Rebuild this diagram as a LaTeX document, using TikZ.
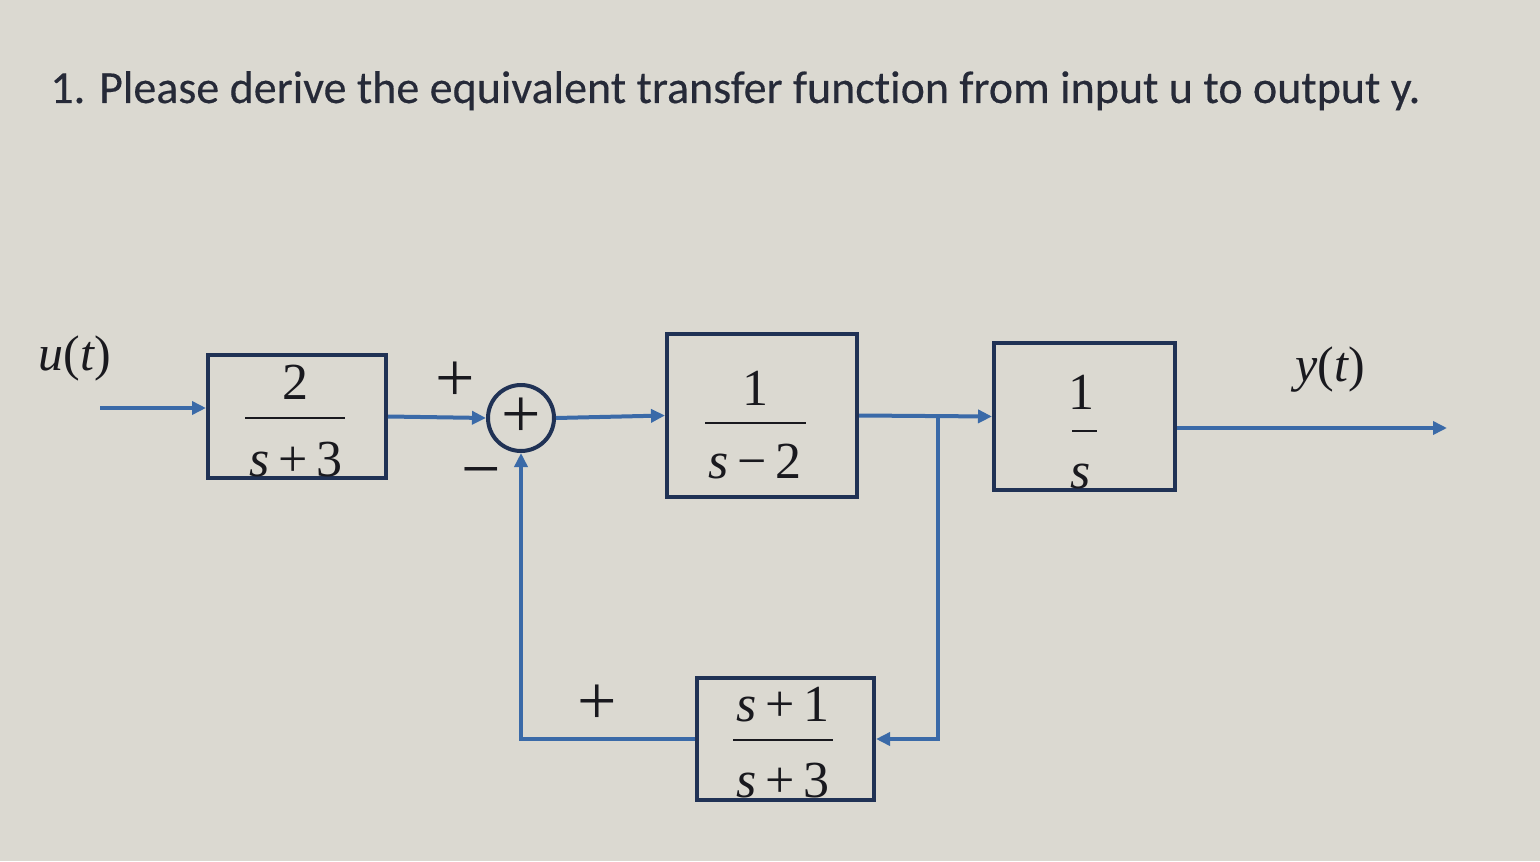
\documentclass[tikz,border=0pt]{standalone}
\usepackage{fontspec}
\usepackage{graphicx}
\setmainfont{Carlito}
\newfontfamily\titlefont[FakeBold=0.3,Ligatures={NoCommon}]{Carlito}
\newfontfamily\tm{Liberation Serif}
\newcommand\vi[1]{{\tm\itshape #1}}
\newcommand\vr[1]{{\tm #1}}
\usetikzlibrary{arrows.meta}
\definecolor{bg}{RGB}{219,217,209}
\definecolor{wire}{RGB}{58,106,168}
\definecolor{boxc}{RGB}{32,50,85}
\definecolor{ink}{RGB}{25,25,30}
\definecolor{tink}{RGB}{38,42,56}
\begin{document}
\begin{tikzpicture}[x=0.5pt,y=-0.5pt,
  wire/.style={draw=wire,line width=2pt,-{Triangle[length=7pt,width=6.5pt]}},
  blk/.style={draw=boxc,line width=2pt,rectangle,inner sep=0pt},
  mt/.style={text=ink,inner sep=0pt,font=\fontsize{26}{30}\selectfont},
  sg/.style={text=ink,inner sep=0pt,font=\fontsize{35}{38}\selectfont},
  lab/.style={text=ink,inner sep=0pt,font=\fontsize{25}{29}\selectfont},
  bar/.style={draw=ink,line width=1.4pt}]
\fill[bg] (0,0) rectangle (1540,861);
\node[anchor=base west,inner sep=0pt,text=tink] (title) at (50,103)
  {\resizebox{685pt}{!}{\titlefont 1. Please derive the equivalent transfer function from input u to output y.}};
% blocks
\node[blk,minimum width=89pt,minimum height=61.5pt] (b1) at (297,416.5) {};
\node[blk,minimum width=95pt,minimum height=81.5pt] (b2) at (762,415.5) {};
\node[blk,minimum width=90.5pt,minimum height=73.5pt] (b3) at (1084.5,416.5) {};
\node[blk,minimum width=88.5pt,minimum height=61pt] (b4) at (785.5,739) {};
\node[draw=boxc,line width=2pt,circle,minimum size=33pt,inner sep=0pt] (sum) at (521,418) {};
\node[sg] (sumplus) at (sum.center) {\vr{+}};
% fractions
\node[mt] (n1) at (295,382) {\vr{2}};
\draw[bar] (245,418) -- (345,418);
\node[mt,anchor=base] (d1) at (296,476) {\vi{s}\,\vr{+}\,\vr{3}};
\node[mt] (n2) at (755,388) {\vr{1}};
\draw[bar] (705,423) -- (806,423);
\node[mt,anchor=base] (d2) at (755,478) {\vi{s}\,\vr{−}\,\vr{2}};
\node[mt] (n3) at (1081,392) {\vr{1}};
\draw[bar] (1072,431) -- (1097,431);
\node[mt,anchor=base] (d3) at (1081,488) {\vi{s}};
\node[mt] (n4) at (783,705) {\vi{s}\,\vr{+}\,\vr{1}};
\draw[bar] (733,740) -- (833,740);
\node[mt,anchor=base] (d4) at (783,797) {\vi{s}\,\vr{+}\,\vr{3}};
% labels
\node[lab] (u) at (75,358) {\vi{u}\vr{(}\vi{t}\vr{)}};
\node[lab] (y) at (1330,370) {\vi{y}\vr{(}\vi{t}\vr{)}};
\node[sg] (p1) at (455,382) {\vr{+}};
\node[sg] (m1) at (481,480) {\vr{−}};
\node[sg] (p2) at (597,705) {\vr{+}};
% connectors
\coordinate (uin) at (100,408);
\coordinate (br) at (938,415.5);
\coordinate (yout) at (1447,428);
\draw[wire] (uin) -- (b1.west |- uin);
\draw[wire] (b1.east) -- (sum.west);
\draw[wire] (sum.east) -- (b2.west);
\draw[wire] (b2.east) -- (b3.west);
\draw[wire] (br) |- (b4.east);
\draw[wire] (b4.west) -| (sum.south);
\draw[wire] (b3.east |- yout) -- (yout);
\end{tikzpicture}
\end{document}
